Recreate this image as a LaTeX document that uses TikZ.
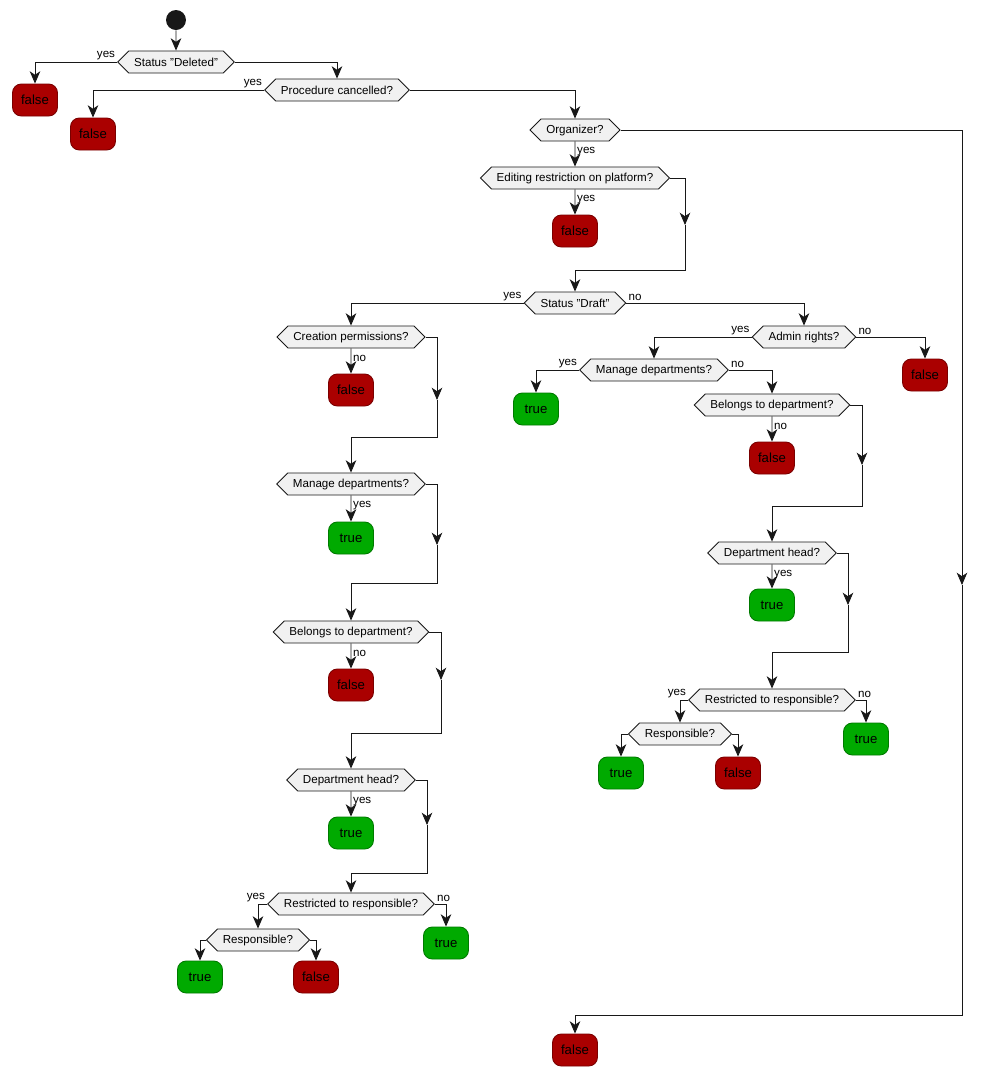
\documentclass[tikz,border=0pt]{standalone}
\usepackage{fontspec}
\setmainfont{Liberation Sans}
\usetikzlibrary{shapes.symbols, arrows.meta, positioning}
\definecolor{lineC}{HTML}{181818}
\definecolor{hexC}{HTML}{F1F1F1}
\definecolor{redC}{HTML}{AA0000}
\definecolor{redB}{HTML}{7A0000}
\definecolor{greenC}{HTML}{00AA00}
\definecolor{greenB}{HTML}{007A00}
\tikzstyle{decision} = [signal, signal to=west and east, signal pointer angle=90, draw=lineC, fill=hexC, inner xsep=3pt, inner ysep=0pt, minimum height=0.44cm, font=\fontsize{6.6}{8}\selectfont]
\tikzstyle{no} = [rectangle, rounded corners=5pt, draw=redB, fill=redC, minimum width=0.9cm, minimum height=0.64cm, font=\fontsize{7.5}{9}\selectfont]
\tikzstyle{yes} = [rectangle, rounded corners=5pt, draw=greenB, fill=greenC, minimum width=0.9cm, minimum height=0.64cm, font=\fontsize{7.5}{9}\selectfont]
\tikzstyle{lbl} = [inner sep=1pt, font=\fontsize{6.6}{8}\selectfont]
\tikzstyle{arrow} = [draw=lineC, -{Stealth[length=7pt,width=6pt,inset=2pt]}]

\begin{document}
\begin{tikzpicture}[x=0.02cm, y=-0.02cm, line width=0.5pt]
    \useasboundingbox (0,0) rectangle (986,1080);
    \node (start) [circle, fill=lineC, minimum size=0.4cm, inner sep=0pt] at (176,20) {};
    % top checks
    \node (d1) [decision] at (176,62) {Status "Deleted"};
    \node (f1) [no] at (35,100) {false};
    \node (d2) [decision] at (337,90) {Procedure cancelled?};
    \node (f2) [no] at (93,134) {false};
    \node (d3) [decision] at (575,130) {Organizer?};
    \node (d4) [decision] at (575,178) {Editing restriction on platform?};
    \node (f3) [no] at (575,231) {false};
    \node (d5) [decision] at (575,303) {Status "Draft"};
    \node (fend) [no] at (575,1050) {false};
    % draft branch
    \node (d6) [decision] at (351,337) {Creation permissions?};
    \node (f4) [no] at (351,390) {false};
    \node (d7) [decision] at (351,484) {Manage departments?};
    \node (t1) [yes] at (351,538) {true};
    \node (d8) [decision] at (351,632) {Belongs to department?};
    \node (f5) [no] at (351,685) {false};
    \node (d9) [decision] at (351,780) {Department head?};
    \node (t2) [yes] at (351,833) {true};
    \node (d10) [decision] at (351,904) {Restricted to responsible?};
    \node (d11) [decision] at (258,940) {Responsible?};
    \node (t3) [yes] at (200,977) {true};
    \node (f6) [no] at (316,977) {false};
    \node (t4) [yes] at (446,943) {true};
    % non-draft branch
    \node (d12) [decision] at (804,337) {Admin rights?};
    \node (f7) [no] at (925,375) {false};
    \node (d13) [decision] at (654,370) {Manage departments?};
    \node (t5) [yes] at (536,409) {true};
    \node (d14) [decision] at (772,405) {Belongs to department?};
    \node (f8) [no] at (772,458) {false};
    \node (d15) [decision] at (772,553) {Department head?};
    \node (t6) [yes] at (772,605) {true};
    \node (d16) [decision] at (772,700) {Restricted to responsible?};
    \node (d17) [decision] at (680,734) {Responsible?};
    \node (t7) [yes] at (621,773) {true};
    \node (f9) [no] at (738,773) {false};
    \node (t8) [yes] at (866,739) {true};
    % helper points
    \coordinate (m3) at (962,585);   \coordinate (j3) at (962,1015);
    \coordinate (m4) at (685,225);   \coordinate (j4) at (685,270);
    \coordinate (m6) at (437,400);   \coordinate (j6) at (437,437);
    \coordinate (m7) at (437,545);   \coordinate (j7) at (437,583);
    \coordinate (m8) at (441,680);   \coordinate (j8) at (441,733);
    \coordinate (m9) at (427,825);   \coordinate (j9) at (427,873);
    \coordinate (m14) at (862,465);  \coordinate (j14) at (862,506);
    \coordinate (m15) at (848,605);  \coordinate (j15) at (848,652);

    \draw [arrow] (start) -- (d1);
    \draw [arrow] (d1.west) node[lbl, anchor=south east] (y1) {yes} -| (f1);
    \draw [arrow] (d1.east) -| (d2);
    \draw [arrow] (d2.west) node[lbl, anchor=south east] (y2) {yes} -| (f2);
    \draw [arrow] (d2.east) -| (d3);
    \draw [arrow] (d3.east) -| (m3);
    \draw [arrow] (m3) -- (j3) -| (fend);
    \draw [arrow] (d3) -- node[lbl, anchor=west, pos=0.4] (y3) {yes} (d4);
    \draw [arrow] (d4) -- node[lbl, anchor=west, pos=0.4] (y4) {yes} (f3);
    \draw [arrow] (d4.east) -| (m4);
    \draw [arrow] (m4) -- (j4) -| (d5);
    \draw [arrow] (d5.west) node[lbl, anchor=south east] (y5) {yes} -| (d6);
    \draw [arrow] (d5.east) node[lbl, anchor=south west] (n5) {no} -| (d12);

    \draw [arrow] (d6) -- node[lbl, anchor=west, pos=0.4] (n6) {no} (f4);
    \draw [arrow] (d6.east) -| (m6);
    \draw [arrow] (m6) -- (j6) -| (d7);
    \draw [arrow] (d7) -- node[lbl, anchor=west, pos=0.4] (y7) {yes} (t1);
    \draw [arrow] (d7.east) -| (m7);
    \draw [arrow] (m7) -- (j7) -| (d8);
    \draw [arrow] (d8) -- node[lbl, anchor=west, pos=0.4] (n8) {no} (f5);
    \draw [arrow] (d8.east) -| (m8);
    \draw [arrow] (m8) -- (j8) -| (d9);
    \draw [arrow] (d9) -- node[lbl, anchor=west, pos=0.4] (y9) {yes} (t2);
    \draw [arrow] (d9.east) -| (m9);
    \draw [arrow] (m9) -- (j9) -| (d10);
    \draw [arrow] (d10.west) node[lbl, anchor=south east] (y10) {yes} -| (d11);
    \draw [arrow] (d10.east) node[lbl, anchor=south west] (n10) {no} -| (t4);
    \draw [arrow] (d11.west) -| (t3);
    \draw [arrow] (d11.east) -| (f6);

    \draw [arrow] (d12.west) node[lbl, anchor=south east] (y12) {yes} -| (d13);
    \draw [arrow] (d12.east) node[lbl, anchor=south west] (n12) {no} -| (f7);
    \draw [arrow] (d13.west) node[lbl, anchor=south east] (y13) {yes} -| (t5);
    \draw [arrow] (d13.east) node[lbl, anchor=south west] (n13) {no} -| (d14);
    \draw [arrow] (d14) -- node[lbl, anchor=west, pos=0.4] (n14) {no} (f8);
    \draw [arrow] (d14.east) -| (m14);
    \draw [arrow] (m14) -- (j14) -| (d15);
    \draw [arrow] (d15) -- node[lbl, anchor=west, pos=0.4] (y15) {yes} (t6);
    \draw [arrow] (d15.east) -| (m15);
    \draw [arrow] (m15) -- (j15) -| (d16);
    \draw [arrow] (d16.west) node[lbl, anchor=south east] (y16) {yes} -| (d17);
    \draw [arrow] (d16.east) node[lbl, anchor=south west] (n16) {no} -| (t8);
    \draw [arrow] (d17.west) -| (t7);
    \draw [arrow] (d17.east) -| (f9);
\end{tikzpicture}
\end{document}
